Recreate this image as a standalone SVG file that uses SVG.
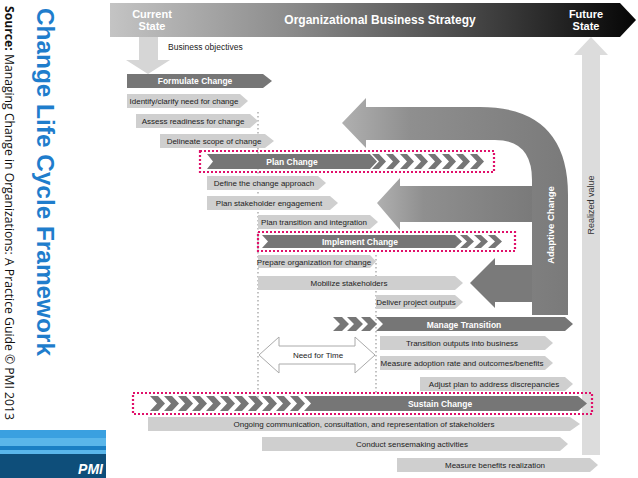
<svg xmlns="http://www.w3.org/2000/svg" width="638" height="478" viewBox="0 0 638 478">
<defs>
<linearGradient id="top" x1="0" x2="1" y1="0" y2="0">
<stop offset="0" stop-color="#c4c4c4"/><stop offset="0.35" stop-color="#8a8a8a"/><stop offset="0.75" stop-color="#3a3a3a"/><stop offset="1" stop-color="#050505"/>
</linearGradient>
<linearGradient id="ad" x1="0" x2="1" y1="0" y2="0">
<stop offset="0" stop-color="#b0b0b0"/><stop offset="0.3" stop-color="#8f8f8f"/><stop offset="1" stop-color="#7a7a7a"/>
</linearGradient>
<style>
.dk{fill:#767676}
.lt{fill:#cfcfcf}
.wt{font-family:"Liberation Sans",Arial,sans-serif;font-size:8.5px;font-weight:bold;fill:#fff;text-anchor:middle}
.bt{font-family:"Liberation Sans",Arial,sans-serif;font-size:8px;fill:#222;text-anchor:middle}
.box{fill:none;stroke:#e0106a;stroke-width:2.2;stroke-dasharray:2 2}
.dot{stroke:#999;stroke-width:1.2;stroke-dasharray:1.5 2.5;fill:none}
</style>
</defs>
<rect width="638" height="478" fill="#fff"/>
<g id="side">
<text transform="translate(5,6) rotate(90)" font-family="'Open Sans',sans-serif" font-size="12.5" fill="#111" textLength="414" lengthAdjust="spacingAndGlyphs"><tspan font-weight="bold">Source:</tspan> Managing Change in Organizations: A Practice Guide © PMI 2013</text>
<text transform="translate(37,8) rotate(90)" font-family="'Liberation Sans',Arial,sans-serif" font-size="23" font-weight="bold" fill="#1f7dcc" textLength="348" lengthAdjust="spacingAndGlyphs">Change Life Cycle Framework</text>
<rect x="0" y="430" width="106" height="8" fill="#3aa0e0"/>
<rect x="0" y="438" width="106" height="16" fill="#5ab6ea"/>
<rect x="0" y="446" width="106" height="4" fill="#1a7fc4"/>
<rect x="0" y="454" width="106" height="24" fill="#0e4e7a"/>
<text x="103" y="474" font-family="'Liberation Sans',Arial,sans-serif" font-size="14" font-weight="bold" font-style="italic" fill="#fff" text-anchor="end">PMI</text>
</g>
<g id="strategy">
<polygon points="110,3 620,3 636,20 620,37 110,37" fill="url(#top)"/>
<text class="wt" x="152" y="18" style="font-size:11px">Current</text>
<text class="wt" x="152" y="30" style="font-size:11px">State</text>
<text class="wt" x="380" y="24" style="font-size:12px">Organizational Business Strategy</text>
<text class="wt" x="586" y="18" style="font-size:11px">Future</text>
<text class="wt" x="586" y="30" style="font-size:11px">State</text>
</g>
<g id="objectives">
<polygon points="139,37 158,37 158,60 170,60 148,74 126,60 139,60" fill="#d6d6d6"/>
<text x="168" y="50" font-family="'Liberation Sans',Arial,sans-serif" font-size="8.5" fill="#222">Business objectives</text>
</g>
<g id="realized">
<polygon points="582,455 600,455 600,55 608,55 591,37 574,55 582,55" fill="#dcdcdc"/>
<text transform="translate(594,205) rotate(-90)" font-family="'Liberation Sans',Arial,sans-serif" font-size="9" fill="#333" text-anchor="middle">Realized value</text>
</g>
<g id="adaptive">
<path d="M342,123 L366,98 L366,107 L480,107 Q568,107 568,195 L568,315 L532,315 L532,180 Q532,140 495,140 L366,140 L366,148 Z" fill="url(#ad)"/>
<path d="M377,203 L400,178 L400,186 L532,186 L532,222 L400,222 L400,230 Z" fill="url(#ad)"/>
<path d="M470,283 L495,258 L495,265 L532,265 L532,315 L532,302 L495,302 L495,308 Z" fill="#7a7a7a"/>
<text transform="translate(554,225) rotate(-90)" class="wt" style="font-size:9.5px">Adaptive Change</text>
</g>
<g id="guides">
<line class="dot" x1="258" y1="112" x2="258" y2="400"/>
<line class="dot" x1="376" y1="255" x2="376" y2="395"/>
</g>
<g id="formulate">
<polygon class="dk" points="127,74 263,74 272,81 263,88 127,88"/>
<text class="wt" x="195" y="84">Formulate Change</text>
<polygon class="lt" points="127,94 240,94 248,101 240,108 127,108"/>
<text class="bt" x="184" y="104">Identify/clarify need for change</text>
<polygon class="lt" points="136,114 250,114 258,121 250,128 136,128"/>
<text class="bt" x="193" y="124">Assess readiness for change</text>
<polygon class="lt" points="160,134 265,134 274,141 265,148 160,148"/>
<text class="bt" x="214" y="144">Delineate scope of change</text>
</g>
<g id="plan">
<rect class="box" x="200" y="151" width="294" height="21"/>
<polygon class="dk" points="207,154 370,154 377,161.5 370,169 207,169 213,161.5"/>
<g class="dk">
<polygon points="372,154 379,154 386,161.5 379,169 372,169 379,161.5"/>
<polygon points="386,154 393,154 400,161.5 393,169 386,169 393,161.5"/>
<polygon points="400,154 407,154 414,161.5 407,169 400,169 407,161.5"/>
<polygon points="414,154 421,154 428,161.5 421,169 414,169 421,161.5"/>
<polygon points="428,154 435,154 442,161.5 435,169 428,169 435,161.5"/>
<polygon points="442,154 449,154 456,161.5 449,169 442,169 449,161.5"/>
<polygon points="456,154 463,154 470,161.5 463,169 456,169 463,161.5"/>
<polygon points="470,154 477,154 484,161.5 477,169 470,169 477,161.5"/>
</g>
<text class="wt" x="292" y="165">Plan Change</text>
<polygon class="lt" points="207,176 318,176 326,183 318,190 207,190"/>
<text class="bt" x="264" y="186">Define the change approach</text>
<polygon class="lt" points="207,196 330,196 338,203 330,210 207,210"/>
<text class="bt" x="269" y="206">Plan stakeholder engagement</text>
<polygon class="lt" points="258,215 370,215 378,222 370,229 258,229"/>
<text class="bt" x="314" y="225">Plan transition and integration</text>
</g>
<g id="implement">
<rect class="box" x="258" y="232" width="257" height="19"/>
<polygon class="dk" points="262,235 455,235 462,241.5 455,248 262,248 268,241.5"/>
<g class="dk">
<polygon points="460,235 467,235 474,241.5 467,248 460,248 467,241.5"/>
<polygon points="474,235 481,235 488,241.5 481,248 474,248 481,241.5"/>
<polygon points="488,235 495,235 502,241.5 495,248 488,248 495,241.5"/>
</g>
<text class="wt" x="360" y="245">Implement Change</text>
<polygon class="lt" points="258,255 370,255 376,261.5 370,268 258,268"/>
<text class="bt" x="314" y="265">Prepare organization for change</text>
<polygon class="lt" points="258,276 455,276 463,283 455,290 258,290"/>
<text class="bt" x="349" y="286">Mobilize stakeholders</text>
<polygon class="lt" points="376,295 455,295 463,302 455,309 376,309"/>
<text class="bt" x="416" y="305">Deliver project outputs</text>
</g>
<g id="transition">
<g class="dk">
<polygon points="333,317 342,317 349,324 342,331 333,331 340,324"/>
<polygon points="347,317 356,317 363,324 356,331 347,331 354,324"/>
<polygon points="361,317 370,317 377,324 370,331 361,331 368,324"/>
</g>
<polygon class="dk" points="376,317 565,317 573,324 565,331 376,331 383,324"/>
<text class="wt" x="464" y="328">Manage Transition</text>
<polygon class="lt" points="380,336 545,336 553,343 545,350 380,350"/>
<text class="bt" x="462" y="346">Transition outputs into business</text>
<polygon class="lt" points="380,356 545,356 553,363 545,370 380,370"/>
<text class="bt" x="462" y="366">Measure adoption rate and outcomes/benefits</text>
<polygon points="259,355 279,337 279,346 355,346 355,337 375,355 355,373 355,364 279,364 279,373" fill="#fff" stroke="#aaa" stroke-width="1"/>
<text class="bt" x="318" y="358">Need for Time</text>
<polygon class="lt" points="420,377 565,377 573,384 565,391 420,391"/>
<text class="bt" x="494" y="387">Adjust plan to address discrepancies</text>
</g>
<g id="sustain">
<rect class="box" x="133" y="393" width="459" height="21"/>
<g class="dk">
<polygon points="150,396 158,396 165,403.5 158,411 150,411 157,403.5"/>
<polygon points="164,396 172,396 179,403.5 172,411 164,411 171,403.5"/>
<polygon points="178,396 186,396 193,403.5 186,411 178,411 185,403.5"/>
<polygon points="192,396 200,396 207,403.5 200,411 192,411 199,403.5"/>
<polygon points="206,396 214,396 221,403.5 214,411 206,411 213,403.5"/>
<polygon points="220,396 228,396 235,403.5 228,411 220,411 227,403.5"/>
<polygon points="234,396 242,396 249,403.5 242,411 234,411 241,403.5"/>
<polygon points="248,396 256,396 263,403.5 256,411 248,411 255,403.5"/>
<polygon points="262,396 270,396 277,403.5 270,411 262,411 269,403.5"/>
<polygon points="276,396 284,396 291,403.5 284,411 276,411 283,403.5"/>
<polygon points="290,396 298,396 305,403.5 298,411 290,411 297,403.5"/>
<polygon points="304,396 578,396 587,403.5 578,411 304,411 311,403.5"/>
</g>
<text class="wt" x="440" y="407">Sustain Change</text>
<polygon class="lt" points="148,417 570,417 580,424 570,431 148,431"/>
<text class="bt" x="364" y="427">Ongoing communication, consultation, and representation of stakeholders</text>
<polygon class="lt" points="262,437 560,437 568,444 560,451 262,451"/>
<text class="bt" x="412" y="447">Conduct sensemaking activities</text>
<polygon class="lt" points="397,458 590,458 598,465 590,472 397,472"/>
<text class="bt" x="495" y="468">Measure benefits realization</text>
</g>
</svg>
